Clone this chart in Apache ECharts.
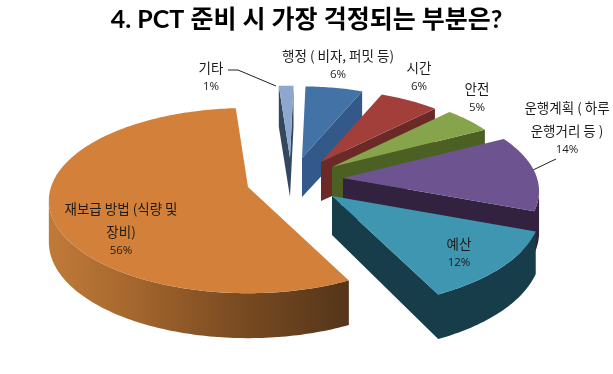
<!DOCTYPE html>
<html><head><meta charset="utf-8">
<style>html,body{margin:0;padding:0;background:#fff}#c{width:613px;height:374px}</style>
<script src="https://cdn.jsdelivr.net/npm/echarts@6/dist/echarts.min.js"></script>
</head><body><div id="c"></div>
<script>
const chartTitle = '4. PCT 준비 시 가장 걱정되는 부분은?';
const categories = ['재보급 방법 (식량 및\n장비)', '기타', '행정 ( 비자, 퍼밋 등)', '시간', '안전', '운행계획 ( 하루\n운행거리 등 )', '예산'];
const percentLabels = ['56%', '1%', '6%', '6%', '5%', '14%', '12%'];
// shares (labels are these, rounded)
const values = [56.2, 1.49, 5.9, 6.1, 4.9, 13.5, 11.91];

const topColors = ['#d2803a', '#8ea7cf', '#4272a6', '#a23f3b', '#86a44c', '#6d5490', '#3f96b0'];
const sideColors = ['#8a5526', '#34475f', '#32598a', '#6c2a27', '#4c6024', '#32213f', '#173d4a'];
const apexes = [[248,187],[290,158],[302,158],[321,162],[332,167],[343,178],[332,196]];
const sliceScale = [0.985, 0.89, 0.88, 0.89, 0.92, 0.97, 1.03];
const percentAnchors = [[121,251],[211,87],[338,75],[419,87],[477,108],[567,150],[459,263]];
const firstAngle = 153.6, persp = 0.149, radiusX = 200, radiusY = 92;

function project(a, deg, s) {
  const t = deg * Math.PI / 180, u = s * Math.sin(t), v = -s * Math.cos(t), w = 1 - persp * v;
  return { x: a[0] + radiusX * u / w, y: a[1] + radiusY * v / w, v };
}
const drop = v => 41 + 4 * Math.max(v, 0);
const total = values.reduce((s, x) => s + x, 0);
const starts = [];
values.reduce((acc, x, i) => { starts[i] = acc; return acc + x / total * 360; }, firstAngle);

function renderItem(params, api) {
  const i = api.value(0), sweep = api.value(1) / total * 360, a = apexes[i];
  const steps = Math.max(2, Math.ceil(sweep));
  const arc = [];
  for (let k = 0; k <= steps; k++) {
    const p = project(a, starts[i] + sweep * k / steps, sliceScale[i]);
    arc.push({ x: p.x, y: p.y, d: drop(p.v) });
  }
  const A = { x: a[0], y: a[1], d: 39 };
  const children = [];
  // clockwise traversal: a side is seen only where the outline runs leftwards
  const chain = [A, ...arc, A];
  let run = [];
  const flush = () => {
    if (run.length > 1) {
      const xs = run.map(p => p.x);
      const fill = i === 0
        ? { type: 'linear', x: Math.min(...xs), y: 0, x2: Math.max(...xs), y2: 0, global: true,
            colorStops: [{ offset: 0, color: '#c07a38' }, { offset: 0.25, color: '#a8692f' }, { offset: 0.6, color: '#7d4d22' }, { offset: 1, color: '#54351a' }] }
        : sideColors[i];
      children.push({ type: 'polygon', shape: { points: run.map(p => [p.x, p.y]).concat(run.slice().reverse().map(p => [p.x, p.y + p.d])) }, style: { fill } });
    }
    run = [];
  };
  for (let k = 0; k < chain.length - 1; k++) {
    if (chain[k+1].x < chain[k].x) {
      if (!run.length) run.push(chain[k]);
      run.push(chain[k+1]);
    } else flush();
  }
  flush();
  children.push({ type: 'polygon', shape: { points: [[a[0],a[1]], ...arc.map(p => [p.x,p.y])] }, style: { fill: topColors[i] } });
  return { type: 'group', children };
}

function labelItem(params, api) {
  const i = api.value(0), c = percentAnchors[i], lines = categories[i].split('\n');
  const children = lines.map((t, k) => ({ type: 'text', style: { text: t, x: c[0], y: c[1] - 19 - (lines.length - 1 - k) * 23,
    align: 'center', verticalAlign: 'middle', fontFamily: '"Noto Sans CJK KR"', fontSize: 13.5, fill: '#1c1c1c' } }));
  children.push({ type: 'text', style: { text: percentLabels[i], x: c[0], y: c[1],
    align: 'center', verticalAlign: 'middle', fontFamily: '"Open Sans"', fontSize: 11.5, fill: '#1c1c1c' } });
  return { type: 'group', children };
}

const chart = echarts.init(document.getElementById('c'), null, { renderer: 'canvas' });
chart.setOption({
  animation: false, backgroundColor: '#fff',
  title: { text: chartTitle, left: 'center', top: 2, textStyle: { fontFamily: 'Lato,"Noto Sans CJK KR"', fontSize: 25, fontWeight: 'bold', color: '#000' } },
  series: [
    { type: 'custom', coordinateSystem: 'none', silent: true, renderItem, data: values.map((v, i) => [i, v]) },
    { type: 'custom', coordinateSystem: 'none', silent: true, renderItem: labelItem, data: values.map((v, i) => [i, v]), z: 5 }
  ],
  graphic: [
    { type: 'polyline', shape: { points: [[228,70],[238,70],[276,86]] }, style: { stroke: '#222', lineWidth: 1, fill: 'none' } },
    { type: 'line', shape: { x1: 533, y1: 170, x2: 556, y2: 159 }, style: { stroke: '#222', lineWidth: 1 } }
  ]
});
</script></body></html>
